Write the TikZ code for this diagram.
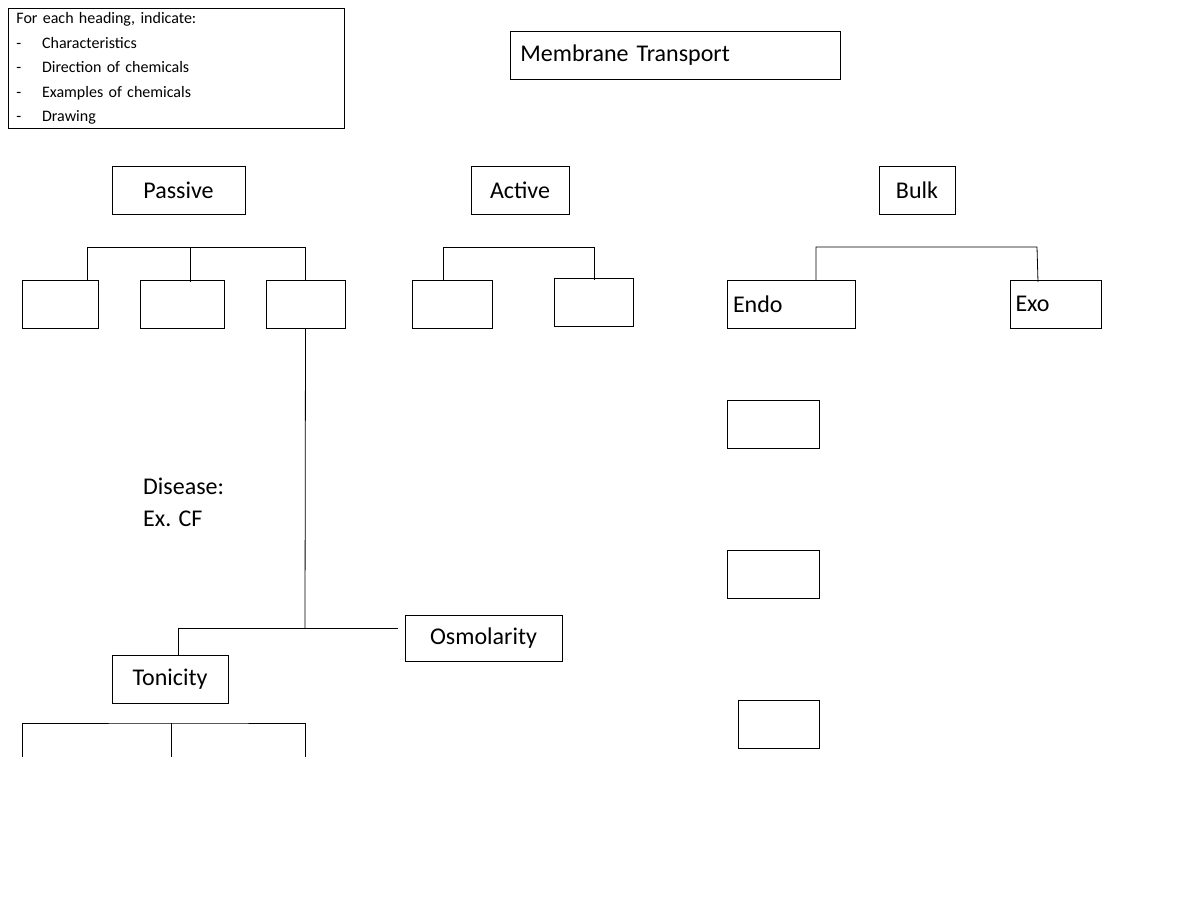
\documentclass[tikz,border=0pt]{standalone}
\usepackage{fontspec}
\setmainfont{Carlito}
\usetikzlibrary{positioning}
\tikzset{
	hbox/.style={draw, thick, minimum height=48pt, inner sep=0pt, font=\fontsize{24}{28}\selectfont},
	line/.style={thick}
}
\begin{document}
\begin{tikzpicture}[x=1pt,y=-1pt]
	\useasboundingbox (0,0) rectangle (1200,900);
	% instructions and title
	\node[draw, thick, anchor=north west, align=left, inner xsep=8pt, inner ysep=4pt, text width=320pt, font=\fontsize{16}{24.5}\selectfont] (info) at (8,8) {For each heading, indicate:\\
		-\hspace{1.3em}Characteristics\\
		-\hspace{1.3em}Direction of chemicals\\
		-\hspace{1.3em}Examples of chemicals\\
		-\hspace{1.3em}Drawing};
	\node[hbox, anchor=north west, minimum width=330pt, text width=310pt, align=left] (title) at (510,31) {Membrane Transport};
	% headings
	\node[hbox, minimum width=133pt] (passive) at (178.5,190) {Passive};
	\node[hbox, minimum width=98pt] (active) at (520,190) {Active};
	\node[hbox, minimum width=76pt] (bulk) at (917,190) {Bulk};
	% passive boxes
	\node[hbox, minimum width=76pt] (p1) at (60,304.5) {};
	\node[hbox, minimum width=84pt] (p2) at (182,304.5) {};
	\node[hbox, minimum width=79pt] (p3) at (305.5,304.5) {};
	\draw[line] (87,280) |- (305,247) -- (305,280);
	\draw[line] (190,247) -- (190,282);
	% active boxes
	\node[hbox, minimum width=80pt] (a1) at (452,304) {};
	\node[hbox, minimum width=79pt] (a2) at (593.5,302.5) {};
	\draw[line] (443,280) |- (594,247) -- (594,280);
	% bulk boxes
	\node[hbox, minimum width=128pt, text width=116pt, align=left] (endo) at (791,304.5) {Endo};
	\node[hbox, minimum width=91pt, text width=80pt, align=left] (exo) at (1055.5,304) {Exo};
	\draw[line] (816,280) |- (1037,247) -- (1038,282);
	\node[hbox, minimum width=92pt] (b1) at (773,424.5) {};
	\node[hbox, minimum width=92pt] (b2) at (773,574.5) {};
	\node[hbox, minimum width=81pt] (b3) at (778.5,724.5) {};
	% disease
	\node[anchor=north west, align=left, font=\fontsize{24}{32}\selectfont, inner sep=0pt] (disease) at (143,478) {Disease:\\Ex. CF};
	% osmolarity and tonicity
	\node[hbox, minimum width=157pt, minimum height=46pt] (osmo) at (483.5,638) {Osmolarity};
	\node[hbox, minimum width=116pt] (tonic) at (170,679) {Tonicity};
	\draw[line] (p3.south) -- (305,628);
	\draw[line] (178,655) |- (398,628);
	\draw[line] (22,757) |- (193,723) -- (305,723) -- (305,757);
	\draw[line] (171,723) -- (171,757);
\end{tikzpicture}
\end{document}
